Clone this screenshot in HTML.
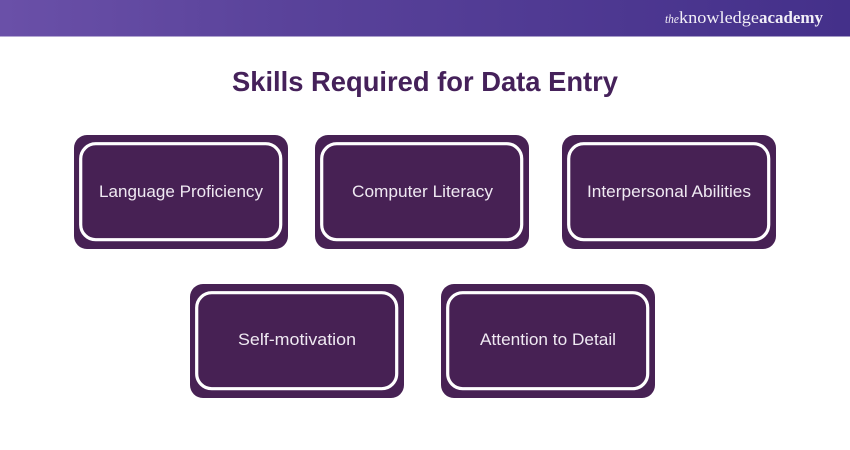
<!DOCTYPE html>
<html lang="en">
<head>
<meta charset="utf-8">
<title>Skills Required for Data Entry</title>
<style>
html,body{margin:0;padding:0;background:#fff}
svg{display:block}
text{font-family:"Liberation Sans",sans-serif}
.l{font-size:16.5px;fill:#efe9f2}
.s{font-family:"Liberation Serif",serif;fill:#f1eef7}
</style>
</head>
<body>
<svg width="850" height="450" viewBox="0 0 850 450" xmlns="http://www.w3.org/2000/svg">
<defs>
<linearGradient id="g" x1="0" x2="1" y1="0" y2="0">
<stop offset="0" stop-color="#6a50a8"/>
<stop offset="0.35" stop-color="#59429a"/>
<stop offset="1" stop-color="#44308a"/>
</linearGradient>
</defs>
<rect width="850" height="450" fill="#fff"/>
<rect width="850" height="36.5" fill="url(#g)"/>
<text class="s" x="665" y="23" font-size="13" font-style="italic" textLength="14" lengthAdjust="spacingAndGlyphs">the</text>
<text class="s" x="679" y="23" font-size="17" textLength="80" lengthAdjust="spacingAndGlyphs">knowledge</text>
<text class="s" x="759" y="23" font-size="17" font-weight="bold" textLength="64" lengthAdjust="spacingAndGlyphs">academy</text>
<text x="232" y="91" font-size="28" font-weight="bold" fill="#45215a" textLength="386" lengthAdjust="spacingAndGlyphs">Skills Required for Data Entry</text>

<rect x="74" y="135" width="214" height="114" rx="13" fill="#472154"/>
<rect x="80.7" y="143.7" width="200" height="96" rx="15" fill="none" stroke="#fff" stroke-width="3.2"/>
<text class="l" x="99" y="197" textLength="164" lengthAdjust="spacingAndGlyphs">Language Proficiency</text>

<rect x="315" y="135" width="214" height="114" rx="13" fill="#472154"/>
<rect x="321.7" y="143.7" width="200" height="96" rx="15" fill="none" stroke="#fff" stroke-width="3.2"/>
<text class="l" x="352" y="197" textLength="141" lengthAdjust="spacingAndGlyphs">Computer Literacy</text>

<rect x="562" y="135" width="214" height="114" rx="13" fill="#472154"/>
<rect x="568.7" y="143.7" width="200" height="96" rx="15" fill="none" stroke="#fff" stroke-width="3.2"/>
<text class="l" x="587" y="197" textLength="164" lengthAdjust="spacingAndGlyphs">Interpersonal Abilities</text>

<rect x="190" y="284" width="214" height="114" rx="13" fill="#472154"/>
<rect x="196.7" y="292.7" width="200" height="96" rx="15" fill="none" stroke="#fff" stroke-width="3.2"/>
<text class="l" x="238" y="345" textLength="118" lengthAdjust="spacingAndGlyphs">Self-motivation</text>

<rect x="441" y="284" width="214" height="114" rx="13" fill="#472154"/>
<rect x="447.7" y="292.7" width="200" height="96" rx="15" fill="none" stroke="#fff" stroke-width="3.2"/>
<text class="l" x="480" y="345" textLength="136" lengthAdjust="spacingAndGlyphs">Attention to Detail</text>
</svg>
</body>
</html>
